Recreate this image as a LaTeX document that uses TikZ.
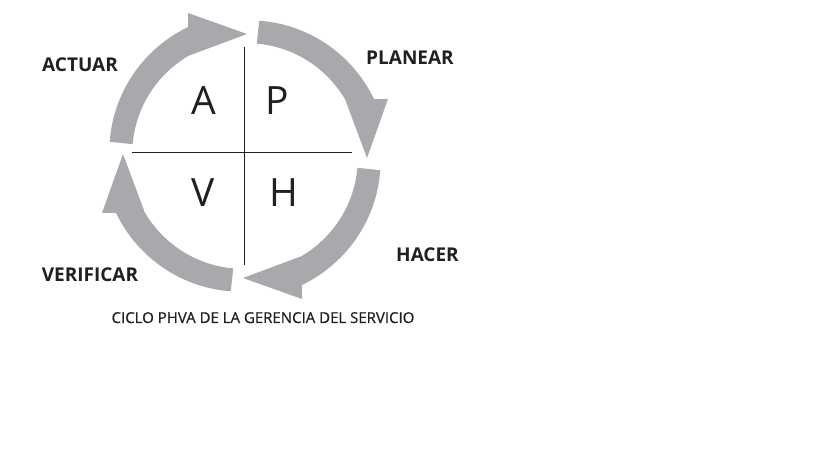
\documentclass[tikz,border=0pt]{standalone}
\usepackage{fontspec}
\setmainfont{Open Sans}
\newfontfamily\titulofont[FakeBold=0.6]{Open Sans}
\definecolor{flecha}{HTML}{A7A9AC}
\definecolor{tinta}{HTML}{231F20}
\begin{document}
\begin{tikzpicture}[x=1pt,y=1pt,
	etiqueta/.style={anchor=base,text=tinta,font=\bfseries\fontsize{19}{19}\selectfont},
	letra/.style={anchor=base,text=tinta,font=\fontsize{39}{39}\selectfont}]
	\fill[white] (0,0) rectangle (819,460);
	\useasboundingbox (0,0) rectangle (819,460);
	% las cuatro flechas del ciclo
	\begin{scope}[shift={(245,304)}]
		\foreach \r in {0,-90,-180,-270}
			\fill[flecha,rotate=\r] (174:136) -- plot[domain=174:113.8,samples=40] (\x:{136+5*(174-\x)/60.2}) -- (-57,143) -- (2,122) -- (-57,100) -- plot[domain=119.7:174,samples=40] (\x:{115-2*(\x-119.7)/54.3}) -- cycle;
	\end{scope}
	\draw[tinta,line width=0.8pt] (132,308)--(352,308) (244,413)--(244,195);
	\node[letra] (A) at (203.5,345) {A};
	\node[letra] (P) at (277,345) {P};
	\node[letra] (V) at (203.5,253) {V};
	\node[letra] (H) at (283.5,253) {H};
	\node[etiqueta] (actuar) at (80,388) {ACTUAR};
	\node[etiqueta] (planear) at (410,395) {PLANEAR};
	\node[etiqueta] (hacer) at (427.5,198) {HACER};
	\node[etiqueta] (verificar) at (90,178) {VERIFICAR};
	\node[anchor=base,text=tinta,font=\titulofont\fontsize{15}{15}\selectfont] (titulo) at (263,137) {CICLO PHVA DE LA GERENCIA DEL SERVICIO};
\end{tikzpicture}
\end{document}
